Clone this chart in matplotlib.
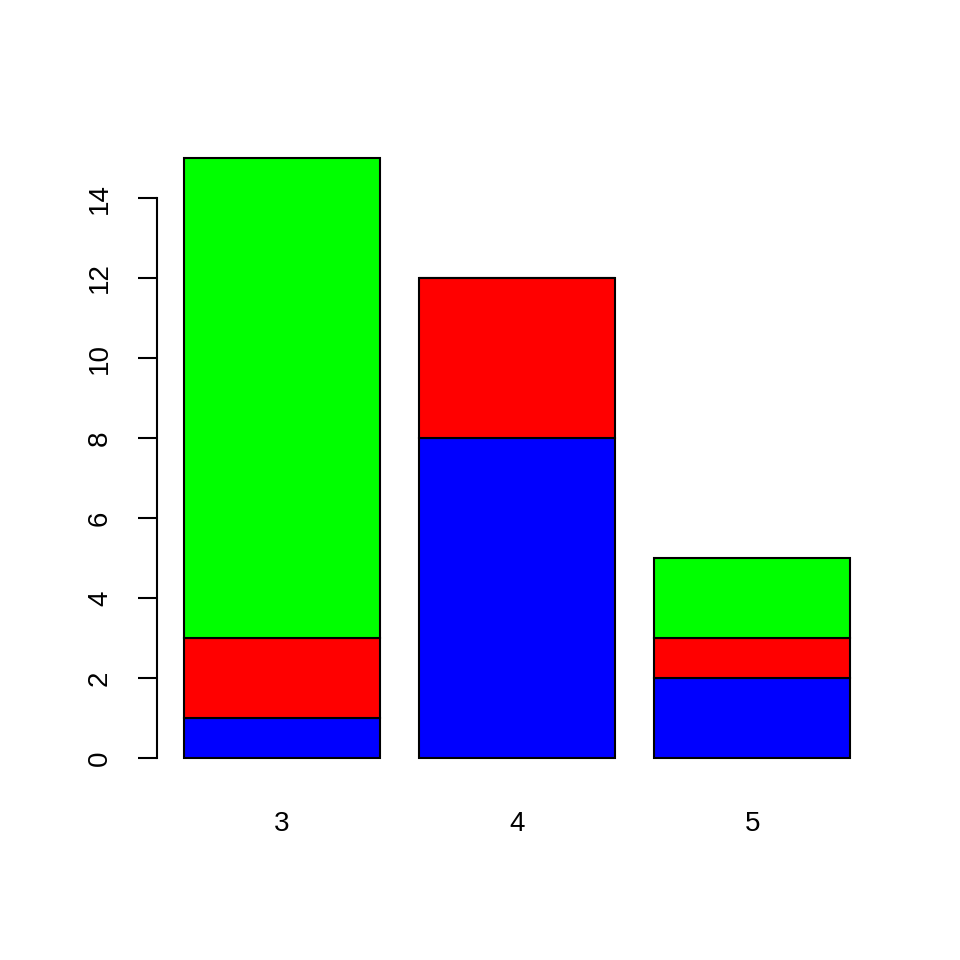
import numpy as np
import matplotlib.pyplot as plt

plt.rcParams['font.family'] = ['Liberation Sans', 'DejaVu Sans']

groups = ['3', '4', '5']
blue = [1, 8, 2]
red = [2, 4, 1]
green = [12, 0, 2]
yticks = [0, 2, 4, 6, 8, 10, 12, 14]

fig = plt.figure(figsize=(9.6, 9.6), dpi=100)
ax = fig.add_axes([157/960, 1 - 782/960, 720/960, 648/960])

# R barplot layout: width 1, space 0.2
x = 0.2 + np.arange(len(groups)) * 1.2 + 0.5
bottom = np.zeros(len(groups))
for vals, col in [(blue, '#0000FF'), (red, '#FF0000'), (green, '#00FF00')]:
    vals = np.array(vals, dtype=float)
    ax.bar(x, vals, width=1.0, bottom=bottom, color=col,
           edgecolor='black', linewidth=1.5)
    bottom += vals

ax.set_xlim(0.064, 3.736)
ax.set_ylim(-0.6, 15.6)

for s in ['top', 'right', 'bottom']:
    ax.spines[s].set_visible(False)
ax.spines['left'].set_bounds(0, 14)
ax.spines['left'].set_linewidth(1.5)

ax.set_yticks(yticks)
ax.set_yticklabels([str(v) for v in yticks], rotation=90, va='center')
ax.tick_params(axis='y', length=13.7, width=1.5, pad=18, labelsize=20)
ax.set_xticks(x)
ax.set_xticklabels(groups)
ax.tick_params(axis='x', length=0, pad=21, labelsize=20)

fig.savefig('out.png', dpi=100)
